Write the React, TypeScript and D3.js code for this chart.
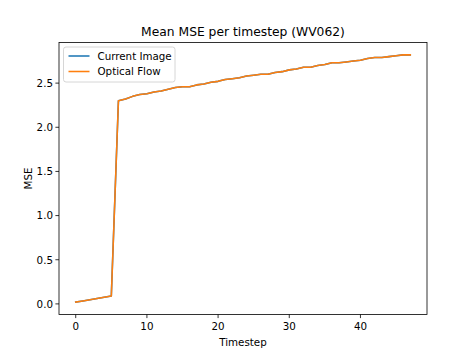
import React from "react";
import * as d3 from "d3";

const timesteps: number[] = Array.from({ length: 48 }, (_, i) => i);
const currentImage: number[] = [
  0.02, 0.034, 0.048, 0.062, 0.076, 0.09, 2.3, 2.32, 2.35, 2.37, 2.38, 2.4, 2.41, 2.43, 2.45, 2.46,
  2.46, 2.48, 2.49, 2.51, 2.52, 2.54, 2.55, 2.56, 2.58, 2.59, 2.6, 2.6, 2.62, 2.63, 2.65, 2.66,
  2.68, 2.68, 2.7, 2.71, 2.73, 2.73, 2.74, 2.75, 2.76, 2.78, 2.79, 2.79, 2.8, 2.81, 2.82, 2.82,
];
const opticalFlow: number[] = [
  0.02, 0.034, 0.048, 0.062, 0.076, 0.09, 2.3, 2.32, 2.35, 2.37, 2.38, 2.4, 2.41, 2.43, 2.45, 2.46,
  2.46, 2.48, 2.49, 2.51, 2.52, 2.54, 2.55, 2.56, 2.58, 2.59, 2.6, 2.6, 2.62, 2.63, 2.65, 2.66,
  2.68, 2.68, 2.7, 2.71, 2.73, 2.73, 2.74, 2.75, 2.76, 2.78, 2.79, 2.79, 2.8, 2.81, 2.82, 2.82,
];
const xTicks: number[] = [0, 10, 20, 30, 40];
const yTicks: number[] = [0.0, 0.5, 1.0, 1.5, 2.0, 2.5];
const seriesNames: string[] = ["Current Image", "Optical Flow"];
const seriesColors: string[] = ["#1f77b4", "#ff7f0e"];

const W = 474;
const H = 355;
const L = 59, R = 427, T = 42.5, B = 314.5;

export default function App() {
  const xMin = 0, xMax = 47;
  const xPad = (xMax - xMin) * 0.05;
  const all = [...currentImage, ...opticalFlow];
  const yMin = d3.min(all)!, yMax = d3.max(all)!;
  const yPad = (yMax - yMin) * 0.05;
  const x = d3.scaleLinear().domain([xMin - xPad, xMax + xPad]).range([L, R]);
  const y = d3.scaleLinear().domain([yMin - yPad, yMax + yPad]).range([B, T]);
  const line = d3
    .line<number>()
    .x((_, i) => x(timesteps[i]))
    .y((d) => y(d));
  const series = [currentImage, opticalFlow];
  const font = "DejaVu Sans, sans-serif";
  return (
    <svg
      width={W}
      height={H}
      style={{ position: "absolute", left: 0, top: 0, background: "#fff" }}
      fontFamily={font}
    >
      <rect x={0} y={0} width={W} height={H} fill="#fff" />
      {series.map((s, k) => (
        <path key={k} d={line(s) || ""} fill="none" stroke={seriesColors[k]} strokeWidth={1.55} strokeLinejoin="round" strokeLinecap="square" />
      ))}
      <rect x={L} y={T} width={R - L} height={B - T} fill="none" stroke="#000" strokeWidth={0.8} />
      {xTicks.map((t) => (
        <g key={t}>
          <line x1={x(t)} x2={x(t)} y1={B} y2={B + 3.6} stroke="#000" strokeWidth={0.8} />
          <text x={x(t)} y={B + 15} textAnchor="middle" fontSize={10.3} fill="#000">{t}</text>
        </g>
      ))}
      {yTicks.map((t) => (
        <g key={t}>
          <line x1={L - 3.6} x2={L} y1={y(t)} y2={y(t)} stroke="#000" strokeWidth={0.8} />
          <text x={L - 6} y={y(t) + 3.8} textAnchor="end" fontSize={10.3} fill="#000">{t.toFixed(1)}</text>
        </g>
      ))}
      <text x={(L + R) / 2} y={346} textAnchor="middle" fontSize={10.3} fill="#000">Timestep</text>
      <text transform={`translate(31.5,${(T + B) / 2}) rotate(-90)`} textAnchor="middle" fontSize={10.3} fill="#000">MSE</text>
      <text x={(L + R) / 2} y={36} textAnchor="middle" fontSize={12.3} fill="#000">Mean MSE per timestep (WV062)</text>
      <g>
        <rect x={63.5} y={47} width={111.5} height={35} rx={2.5} fill="#fff" fillOpacity={0.8} stroke="#ccc" strokeWidth={0.8} />
        {seriesNames.map((n, k) => (
          <g key={n}>
            <line x1={68.5} x2={89.5} y1={56 + k * 15.5} y2={56 + k * 15.5} stroke={seriesColors[k]} strokeWidth={1.55} />
            <text x={97.5} y={56 + k * 15.5 + 3.7} fontSize={10.3} fill="#000">{n}</text>
          </g>
        ))}
      </g>
    </svg>
  );
}
